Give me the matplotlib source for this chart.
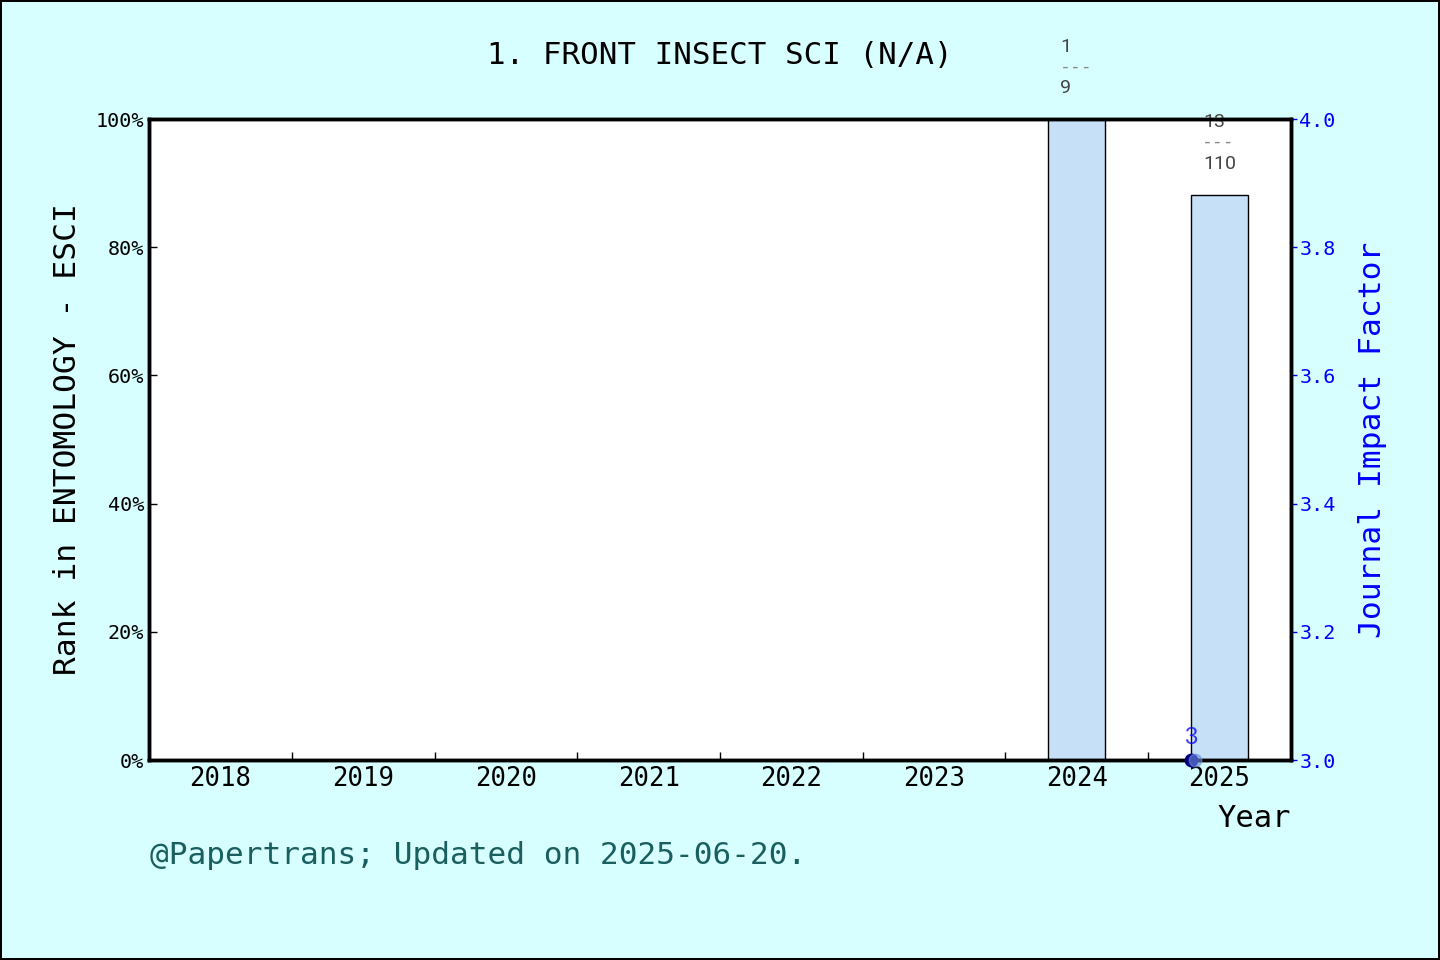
import numpy as np
import matplotlib.pyplot as plt
from matplotlib.ticker import FixedLocator, FuncFormatter

years = [2018, 2019, 2020, 2021, 2022, 2023, 2024, 2025]
rank_years = [2024, 2025]
rank_pct = [100.0, 88.2]
rank_num = ['1', '13']
rank_den = ['9', '110']
if_years = [2025]
if_vals = [3.0]
if_labels = ['3']

title = '1. FRONT INSECT SCI (N/A)'
ylabel_left = 'Rank in ENTOMOLOGY - ESCI'
ylabel_right = 'Journal Impact Factor'
footer = '@Papertrans; Updated on 2025-06-20.'

mono = 'DejaVu Sans Mono'
bg = '#d8ffff'

fig = plt.figure(figsize=(14.4, 9.6), dpi=100)
fig.patch.set_facecolor(bg)
fig.patch.set_edgecolor('black')
fig.patch.set_linewidth(1.5)

ax = fig.add_axes([0.1035, 0.2083, 0.793, 0.6677])
ax.set_facecolor('white')

ax.bar(rank_years, rank_pct, width=0.4, color='#c6e0f7', edgecolor='black',
       linewidth=1, zorder=2)
for x, h, n, d in zip(rank_years, rank_pct, rank_num, rank_den):
    kw = dict(xy=(x, h), textcoords='offset points', ha='left', va='center',
              annotation_clip=False)
    ax.annotate(n, xytext=(-12, 52), fontsize=14, color='#444444',
                family='Roboto', **kw)
    ax.annotate('---', xytext=(-12.5, 38), fontsize=13, color='#888888',
                family=mono, **kw)
    ax.annotate(d, xytext=(-12, 22), fontsize=14, color='#444444',
                family='Roboto', **kw)

ax.set_xlim(2017.5, 2025.5)
ax.set_ylim(0, 100)
ax.set_xticks(years)
ax.set_xticklabels([str(y) for y in years], family=mono, fontsize=18.5)
ax.xaxis.set_minor_locator(FixedLocator(np.array(years[:-1]) + 0.5))
ax.tick_params(axis='x', which='major', length=0, pad=4)
ax.tick_params(axis='x', which='minor', direction='in', length=6, width=1)
ax.set_yticks([0, 20, 40, 60, 80, 100])
ax.yaxis.set_major_formatter(FuncFormatter(lambda v, p: '%d%%' % v))
ax.tick_params(axis='y', direction='in', length=6, width=1, labelsize=14.5)
for lab in ax.get_yticklabels():
    lab.set_family(mono)
for sp in ax.spines.values():
    sp.set_linewidth(2.5)
ax.set_ylabel(ylabel_left, family=mono, fontsize=22.5, labelpad=10)
ax.set_xlabel('Year', family=mono, fontsize=22)
ax.xaxis.set_label_coords(1.0, -0.068)
ax.xaxis.label.set_ha('right')

ax2 = ax.twinx()
ax2.set_ylim(3.0, 4.0)
ax2.set_yticks([3.0, 3.2, 3.4, 3.6, 3.8, 4.0])
ax2.yaxis.set_major_formatter(FuncFormatter(lambda v, p: '%.1f' % v))
ax2.tick_params(axis='y', direction='out', length=4, width=1, colors='blue',
                labelsize=14.5, pad=2)
for lab in ax2.get_yticklabels():
    lab.set_family(mono)
for sp in ax2.spines.values():
    sp.set_linewidth(2.5)
ax2.set_ylabel(ylabel_right, family=mono, fontsize=22.5, color='blue',
               labelpad=16)

if_x = np.array(if_years) - 0.2
ax2.plot(if_x, if_vals, 'o', color='navy', ms=9, clip_on=False, zorder=5)
ax2.plot(if_x + 0.03, if_vals, 'o', color='#6f8fe0', ms=9, alpha=0.6,
         clip_on=False, zorder=6)
for x, v, t in zip(if_x, if_vals, if_labels):
    ax2.annotate(t, xy=(x, v), xytext=(0, 8), textcoords='offset points',
                 ha='center', va='bottom', fontsize=17, color='blue',
                 family='Liberation Sans', alpha=0.75)

fig.text(0.5, 0.9417, title, ha='center', va='center', family=mono,
         fontsize=22.2)
fig.text(0.104, 0.109, footer, ha='left', va='center', family=mono,
         fontsize=22.4, color='#1a5f5f')

fig.savefig('out.png', dpi=100, facecolor=fig.get_facecolor(),
            edgecolor=fig.get_edgecolor())
